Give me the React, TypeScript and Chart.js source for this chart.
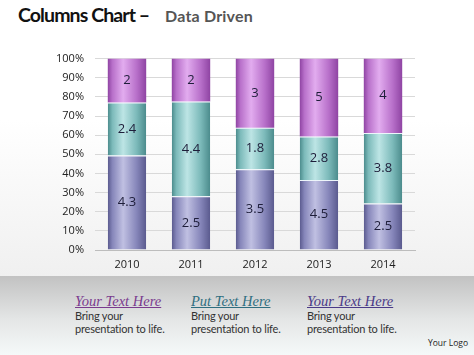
import React, { useEffect, useRef } from "react";
import { Chart, registerables } from "chart.js";

Chart.register(...registerables);

const categories = ["2010", "2011", "2012", "2013", "2014"];
const seriesBottom = [4.3, 2.5, 3.5, 4.5, 2.5];
const seriesMiddle = [2.4, 4.4, 1.8, 2.8, 3.8];
const seriesTop = [2, 2, 3, 5, 4];
const yTickLabels = ["0%", "10%", "20%", "30%", "40%", "50%", "60%", "70%", "80%", "90%", "100%"];

const rawSeries = [seriesBottom, seriesMiddle, seriesTop];
const totals = categories.map((_, i) => rawSeries.reduce((s, arr) => s + arr[i], 0));
const pctSeries = rawSeries.map((arr) => arr.map((v, i) => (v / totals[i]) * 100));

const palettes = [
  { dark: "#5a5a8e", light: "#c0c0e2", mid: "#8686ba" },
  { dark: "#4b8b8c", light: "#bde5e5", mid: "#7cbaba" },
  { dark: "#8f44a3", light: "#e2acef", mid: "#b870ca" },
];

const BAR_PCT = 0.6;

function makeBg(p: { dark: string; light: string; mid: string }) {
  return (ctx: any) => {
    const chart = ctx.chart;
    const xs = chart.scales && chart.scales.x;
    if (!xs || ctx.type !== "data" || !isFinite(xs.width)) return p.mid;
    const cx = xs.getPixelForValue(ctx.dataIndex);
    const w = (xs.width / categories.length) * BAR_PCT;
    const g = chart.ctx.createLinearGradient(cx - w / 2, 0, cx + w / 2, 0);
    g.addColorStop(0, p.dark);
    g.addColorStop(0.12, p.mid);
    g.addColorStop(0.4, p.light);
    g.addColorStop(0.75, p.mid);
    g.addColorStop(1, p.dark);
    return g;
  };
}

const valueLabels = {
  id: "valueLabels",
  afterDatasetsDraw(chart: any) {
    const c = chart.ctx;
    c.save();
    c.font = "13px 'Open Sans'";
    c.fillStyle = "#1e1e3a";
    c.textAlign = "center";
    c.textBaseline = "middle";
    chart.data.datasets.forEach((ds: any, di: number) => {
      const meta = chart.getDatasetMeta(di);
      meta.data.forEach((el: any, i: number) => {
        const y = (el.y + el.base) / 2;
        c.fillText(String(rawSeries[di][i]), el.x, y);
      });
    });
    c.restore();
  },
};

export default function App() {
  const ref = useRef<HTMLCanvasElement | null>(null);

  useEffect(() => {
    document.body.style.margin = "0";
    if (!ref.current) return;
    const chart = new Chart(ref.current, {
      type: "bar",
      data: {
        labels: categories,
        datasets: pctSeries.map((data, di) => ({
          label: "S" + (di + 1),
          data,
          backgroundColor: makeBg(palettes[di]),
          borderColor: "rgba(235,245,250,0.85)",
          borderWidth: { top: di < 2 ? 1 : 0, left: 0, right: 0, bottom: 0 },
          borderSkipped: false,
          barPercentage: BAR_PCT,
          categoryPercentage: 1,
        })),
      },
      options: {
        responsive: false,
        animation: false,
        layout: { padding: { top: 9, right: 59, left: 0, bottom: 0 } },
        plugins: { legend: { display: false }, tooltip: { enabled: false }, title: { display: false } },
        scales: {
          x: {
            stacked: true,
            grid: { display: false, drawTicks: false },
            border: { display: true, color: "#bdbdbd" },
            ticks: { padding: 8, color: "#222", font: { family: "'Open Sans'", size: 11 } },
            afterFit: (s: any) => {
              s.height = 25;
            },
          },
          y: {
            stacked: true,
            min: 0,
            max: 100,
            grid: { color: "#d9d9d9", drawTicks: false },
            border: { display: false },
            ticks: {
              stepSize: 10,
              padding: 11,
              color: "#222",
              font: { family: "'Open Sans'", size: 11 },
              callback: (v: any) => yTickLabels[Math.round(Number(v) / 10)],
            },
            afterFit: (s: any) => {
              s.width = 95;
            },
          },
        },
      },
      plugins: [valueLabels],
    });
    return () => chart.destroy();
  }, []);

  const head = (color: string): React.CSSProperties => ({
    fontFamily: "'Liberation Serif', serif",
    fontStyle: "italic",
    fontSize: 14.5,
    color,
    textDecoration: "underline",
    lineHeight: "16px",
    whiteSpace: "nowrap",
  });
  const body: React.CSSProperties = {
    fontFamily: "Lato, sans-serif",
    fontSize: 11,
    letterSpacing: "-0.2px",
    color: "#333",
    lineHeight: "13px",
    whiteSpace: "nowrap",
  };
  const cols = [
    { x: 75, title: "Your  Text Here", color: "#7a3b8e" },
    { x: 191, title: "Put Text Here", color: "#2f6e80" },
    { x: 307, title: "Your  Text Here", color: "#4a3a88" },
  ];

  return (
    <div
      style={{
        position: "fixed",
        left: 0,
        top: 0,
        width: 474,
        height: 355,
        overflow: "hidden",
        background: "linear-gradient(#ffffff 0px, #ffffff 120px, #f0f0f0 276px)",
      }}
    >
      <div
        style={{
          position: "absolute",
          left: 18,
          top: 1,
          whiteSpace: "nowrap",
          fontFamily: "Lato, sans-serif",
          fontWeight: 700,
          lineHeight: "28px",
          fontSize: 19.5,
          letterSpacing: "-0.9px",
          color: "#111",
        }}
      >
        Columns Chart –
      </div>
      <div
        style={{
          position: "absolute",
          left: 165,
          top: 3,
          whiteSpace: "nowrap",
          fontFamily: "Lato, sans-serif",
          fontWeight: 700,
          lineHeight: "26px",
          fontSize: 16,
          letterSpacing: "0.2px",
          color: "#555",
        }}
      >
        Data Driven
      </div>
      <canvas
        ref={ref}
        width={474}
        height={234}
        style={{ position: "absolute", left: 0, top: 41, width: 474, height: 234 }}
      />
      <div
        style={{
          position: "absolute",
          left: 0,
          top: 276,
          width: 474,
          height: 79,
          background: "linear-gradient(#c2c2c2, #e4e6e6 55%, #f5f9f9)",
        }}
      >
        {cols.map((c, i) => (
          <div key={i} style={{ position: "absolute", left: c.x, top: 17 }}>
            <div style={head(c.color)}>{c.title}</div>
            <div style={body}>Bring your</div>
            <div style={body}>presentation to life.</div>
          </div>
        ))}
        <div
          style={{
            position: "absolute",
            left: 428,
            top: 61,
            fontFamily: "'Open Sans', sans-serif",
            fontSize: 8.5,
            color: "#222",
            whiteSpace: "nowrap",
          }}
        >
          Your Logo
        </div>
      </div>
    </div>
  );
}
